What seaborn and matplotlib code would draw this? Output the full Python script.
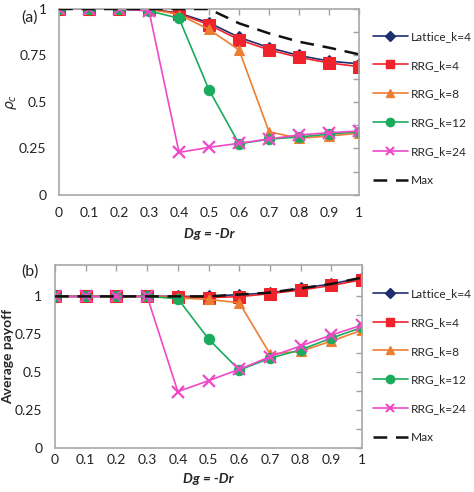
import matplotlib
matplotlib.use("Agg")
import matplotlib.pyplot as plt
import seaborn as sns
import numpy as np
import pandas as pd
from matplotlib.ticker import MultipleLocator, FixedLocator
from matplotlib.lines import Line2D

sns.set_style("white")
plt.rcParams['font.family'] = ['Lato', 'DejaVu Sans']
plt.rcParams['mathtext.fontset'] = 'dejavusans'

x_vals = [0, 0.1, 0.2, 0.3, 0.4, 0.5, 0.6, 0.7, 0.8, 0.9, 1.0]
x_labels = ["0", "0.1", "0.2", "0.3", "0.4", "0.5", "0.6", "0.7", "0.8", "0.9", "1"]
series_names = ["Lattice_k=4", "RRG_k=4", "RRG_k=8", "RRG_k=12", "RRG_k=24", "Max"]

# panel (a): fraction of cooperators
rho_lattice4 = [1, 1, 1, 1, 0.978, 0.926, 0.848, 0.792, 0.750, 0.720, 0.705]
rho_rrg4 = [1, 1, 1, 1, 0.975, 0.915, 0.835, 0.780, 0.740, 0.710, 0.690]
rho_rrg8 = [1, 1, 1, 1, 0.970, 0.890, 0.780, 0.340, 0.305, 0.317, 0.332]
rho_rrg12 = [1, 1, 1, 0.99, 0.950, 0.565, 0.275, 0.300, 0.312, 0.327, 0.340]
rho_rrg24 = [1, 1, 1, 0.99, 0.229, 0.256, 0.278, 0.301, 0.323, 0.335, 0.344]
rho_max = [1, 1, 1, 1, 1, 1, 0.923, 0.869, 0.824, 0.792, 0.756]

# panel (b): average payoff
pay_lattice4 = [1, 1, 1, 1, 1.0, 1.0, 1.012, 1.022, 1.053, 1.082, 1.124]
pay_rrg4 = [1, 1, 1, 1, 0.998, 0.992, 0.998, 1.018, 1.042, 1.072, 1.110]
pay_rrg8 = [1, 1, 1, 1, 0.99, 0.98, 0.958, 0.620, 0.638, 0.705, 0.778]
pay_rrg12 = [1, 1, 1, 1, 0.985, 0.719, 0.514, 0.592, 0.648, 0.725, 0.796]
pay_rrg24 = [1, 1, 1, 1, 0.372, 0.444, 0.519, 0.602, 0.673, 0.745, 0.811]
pay_max = [1, 1, 1, 1, 1.0, 1.0, 1.012, 1.025, 1.053, 1.082, 1.124]

colors = ["#1f2f6e", "#f0222b", "#ed7d31", "#1aab5c", "#f048c8", "#111111"]
markers = ["D", "s", "^", "o", "x", None]
msizes = [6, 8, 7.5, 7.5, 8, 0]
leg_sizes = [5, 6, 6, 6, 6, 0]

fig = plt.figure(figsize=(4.74, 4.92), dpi=100)
ax_a = fig.add_axes([0.1245, 0.6037, 0.633, 0.378])
ax_b = fig.add_axes([0.116, 0.0894, 0.648, 0.372])

def draw(ax, ys, ymax, ylabel, legend_y, xpad, xlab_y, ylab_x):
    for name, y, c, m, ms in zip(series_names, ys, colors, markers, msizes):
        df = pd.DataFrame({"x": x_vals, "y": y})
        if m is None:
            sns.lineplot(data=df, x="x", y="y", ax=ax, color=c, lw=1.8,
                         linestyle=(0, (5.5, 3.5)), zorder=6)
        elif m == "x":
            sns.lineplot(data=df, x="x", y="y", ax=ax, color=c, lw=1.2,
                         marker="x", markersize=ms, markeredgewidth=1.6,
                         markeredgecolor=c)
        else:
            sns.lineplot(data=df, x="x", y="y", ax=ax, color=c, lw=1.2,
                         marker=m, markersize=ms, markeredgecolor=c,
                         markerfacecolor=c)
    ax.set_xlim(0, 1)
    ax.set_ylim(0, ymax)
    ax.xaxis.set_major_locator(FixedLocator(x_vals))
    ax.set_xticklabels(x_labels)
    ax.yaxis.set_major_locator(FixedLocator([0, 0.25, 0.5, 0.75, 1.0]))
    ax.set_yticklabels(["0", "0.25", "0.5", "0.75", "1"])
    ax.yaxis.set_minor_locator(MultipleLocator(0.125))
    ax.tick_params(axis="both", which="both", direction="in", color="#a0a0a0",
                   labelsize=10, labelcolor="#222222", top=True, right=True,
                   length=4, width=1)
    ax.tick_params(axis="y", which="major", pad=9)
    ax.tick_params(axis="x", which="major", pad=xpad)
    for s in ax.spines.values():
        s.set_color("#a8a8a8")
        s.set_linewidth(1.2)
    ax.set_xlabel("Dg = -Dr", fontsize=10, fontweight="bold", style="italic")
    ax.xaxis.set_label_coords(0.5, xlab_y)
    ax.set_ylabel(ylabel, fontsize=10, fontweight="bold")
    ax.yaxis.set_label_coords(ylab_x, 0.5)
    handles = []
    for c, m, ms in zip(colors, markers, leg_sizes):
        if m is None:
            handles.append(Line2D([], [], color=c, lw=1.8, linestyle=(0, (5.5, 3.5))))
        elif m == "x":
            handles.append(Line2D([], [], color=c, lw=1.2, marker="x", markersize=ms,
                                  markeredgewidth=1.5))
        else:
            handles.append(Line2D([], [], color=c, lw=1.2, marker=m, markersize=ms,
                                  markerfacecolor=c, markeredgecolor=c))
    fig.legend(handles, series_names, loc="center left", bbox_to_anchor=(0.787, legend_y),
               frameon=False, fontsize=8.6, labelspacing=1.5, handlelength=2.9,
               handletextpad=0.3, borderpad=0, borderaxespad=0)

draw(ax_a, [rho_lattice4, rho_rrg4, rho_rrg8, rho_rrg12, rho_rrg24, rho_max],
     1.0, r"$\boldsymbol{\rho_c}$", 0.7795, 9, -0.175, -0.135)
draw(ax_b, [pay_lattice4, pay_rrg4, pay_rrg8, pay_rrg12, pay_rrg24, pay_max],
     1.207, "Average payoff", 0.257, 4, -0.137, -0.132)

fig.text(0.045, 0.955, "(a)", fontsize=11.5, color="#222222")
fig.text(0.045, 0.44, "(b)", fontsize=11.5, color="#222222")

fig.savefig("out.png", dpi=100)
